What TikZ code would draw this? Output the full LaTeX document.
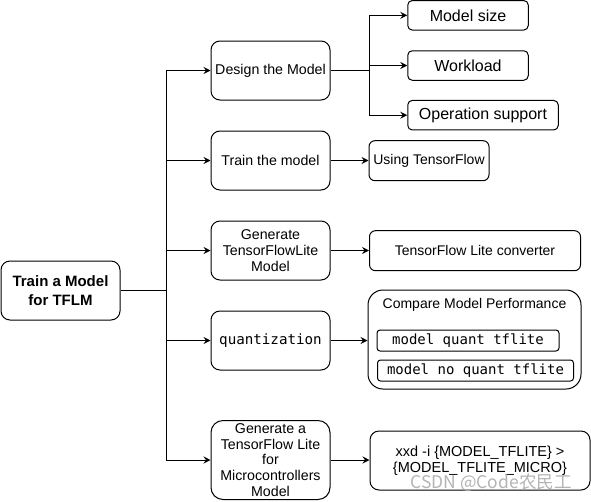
\documentclass[tikz,border=0pt]{standalone}
\usepackage{fontspec}
\setmainfont{Liberation Sans}
\setmonofont{DejaVu Sans Mono}
\newfontfamily\cjkfont{Noto Sans CJK SC}
\usetikzlibrary{arrows.meta}
\begin{document}
\begin{tikzpicture}[x=1pt,y=-1pt,
  box/.style={draw, rounded corners=9pt, line width=1pt, inner sep=0pt, align=center,
    minimum width=119pt, minimum height=59pt, font=\fontsize{14.2}{15.8}\selectfont},
  leaf/.style={draw, rounded corners=4.5pt, line width=1pt, inner sep=0pt, align=center,
    minimum height=29.5pt, font=\fontsize{16}{18}\selectfont},
  wide/.style={draw, rounded corners=6pt, line width=1pt, inner sep=0pt, align=center,
    minimum height=40pt, font=\fontsize{14}{15}\selectfont},
  code/.style={draw, rounded corners=3pt, line width=1pt, inner sep=0pt,
    minimum height=21pt, font=\ttfamily\fontsize{14}{16}\selectfont},
  arr/.style={line width=1pt, -{Stealth[length=7pt,width=7pt,inset=2.5pt]}},
  plain/.style={line width=1pt}]
\useasboundingbox (0,0) rectangle (591,501);
\fill[white] (0,0) rectangle (591,501);

% main column
\node[box, font=\bfseries\fontsize{15}{18.5}\selectfont] (root) at (60.5,290.5) {Train a Model\\for TFLM};
\node[box] (design) at (270.5,70.5) {Design the Model};
\node[box] (train) at (270.5,160.5) {Train the model};
\node[box] (gen) at (270.5,250.5) {Generate\\TensorFlowLite\\Model};
\node[box, font=\ttfamily\fontsize{14.2}{16}\selectfont] (quant) at (270.5,340.5) {quantization};
\node[box, rounded corners=12pt, minimum height=79pt] (micro) at (270.5,460) {Generate a\\TensorFlow Lite\\for\\Microcontrollers\\Model};

% right column
\node[leaf, minimum width=120.5pt] (msize) at (468,15.3) {Model size};
\node[leaf, minimum width=120.5pt] (work) at (468,65.5) {Workload};
\node[leaf, minimum width=150.5pt] (ops) at (483,115.2) {Operation support};
\node[wide, minimum width=120pt] (using) at (429,160.7) {Using TensorFlow};
\node[wide, minimum width=211pt] (conv) at (475,250.7) {TensorFlow Lite converter};
\node[draw, rounded corners=15pt, line width=1pt, minimum width=213pt, minimum height=99pt, inner sep=0pt] (cmp) at (474.5,339.5) {};
\node[font=\fontsize{14}{15}\selectfont, inner sep=0pt] (cmptitle) at (474.5,305) {Compare Model Performance};
\node[code, minimum width=182pt] (q1) at (468,340.5) {model quant tflite};
\node[code, minimum width=196pt] (q2) at (475.5,370.5) {model no quant tflite};
\node[draw, rounded corners=9pt, line width=1pt, inner sep=0pt, align=center,
  minimum width=220pt, minimum height=59pt, font=\fontsize{14.5}{15.5}\selectfont] (xxd) at (480,460.5)
  {xxd -i \{MODEL\_TFLITE\} >\\\{MODEL\_TFLITE\_MICRO\}};

% connectors from root
\coordinate (trunk) at (166,290.5);
\draw[plain] (root.east) -- (trunk);
\draw[arr] (trunk) |- (design.west);
\draw[arr] (trunk) |- (train.west);
\draw[arr] (trunk) |- (gen.west);
\draw[arr] (trunk) |- (quant.west);
\draw[arr] (trunk) |- (micro.west);

% design branches
\coordinate (br) at (369.5,70.5);
\draw[plain] (design.east) -- (br);
\draw[arr] (br) |- (msize.west);
\draw[arr] (br) |- (work.west);
\draw[arr] (br) |- (ops.west);

% other connectors
\draw[arr] (train.east) -- (train.east -| using.west);
\draw[arr] (gen.east) -- (gen.east -| conv.west);
\draw[arr] (quant.east) -- (quant.east -| cmp.west);
\draw[arr] (micro.east) -- (micro.east -| xxd.west);

% watermark
\node[text=gray!65, opacity=0.9, font=\cjkfont\fontsize{17.5}{19}\selectfont, inner sep=0pt] (wm) at (491,483) {CSDN @Code农民工};
\end{tikzpicture}
\end{document}
